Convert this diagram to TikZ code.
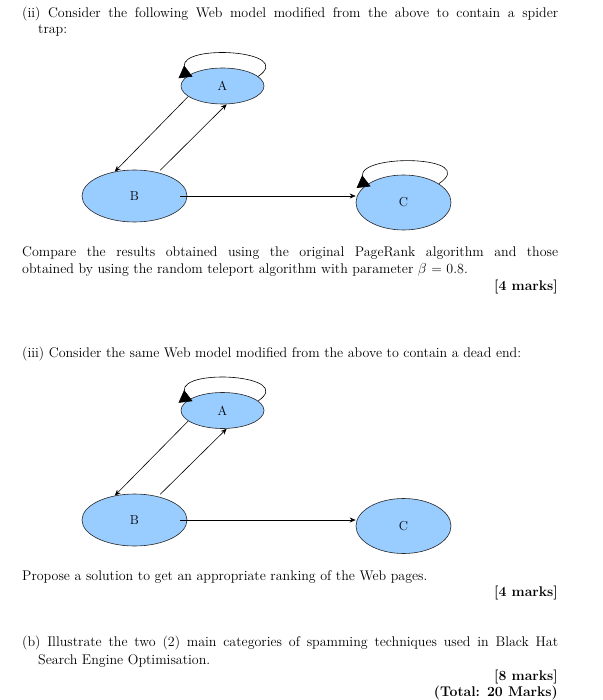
\documentclass[tikz,border=0pt]{standalone}
\usepackage{tikz}
\usetikzlibrary{shapes.geometric,arrows.meta,calc}
\definecolor{pagefill}{HTML}{99CCFF}
\def\qfont{\fontsize{14}{16}\selectfont}
\def\jline#1{\makebox[536pt][s]{#1}}
\tikzset{
	page/.style={ellipse, draw=black!85, fill=pagefill, line width=0.6pt, inner sep=0pt, font=\fontsize{13}{15}\selectfont},
	link/.style={line width=0.6pt, -{Stealth[length=6pt,width=5pt]}},
	selfloop/.style={line width=0.6pt, -{Triangle[reversed,length=12pt,width=14pt]}},
	qline/.style={anchor=base west, inner sep=0pt, font=\qfont},
	marks/.style={anchor=base east, inner sep=0pt, font=\qfont\bfseries}
}

\begin{document}
\begin{tikzpicture}[x=1pt, y=-1pt]
			%%%%% START %%%%%
			\useasboundingbox (0,0) rectangle (602,700);
			
			\node[qline] (q2a) at (22,18) {\jline{(ii) Consider the following Web model modified from the above to contain a spider}};
			\node[qline] (q2b) at (38,34) {trap:};
			
			% spider trap
			\node[page, minimum width=83pt, minimum height=36pt] (A1) at (222.5,86) {A};
			\node[page, minimum width=105pt, minimum height=52pt] (B1) at (134.5,196) {B};
			\node[page, minimum width=95pt, minimum height=55pt] (C1) at (403.5,202.5) {C};
			
			\draw[link] (A1.197) -- (B1.129);
			\draw[link, shorten <=3pt] (B1.45) -- (A1.283);
			\draw[link] ([xshift=-7pt]B1.east) -- (B1.east -| C1.west);
			\draw[selfloop] (A1.15) .. controls +(38,-26) and +(-4,-34) .. (A1.167);
			\draw[selfloop] (C1.28) .. controls +(42,-28) and +(-4,-34) .. (C1.159);
			
			\node[qline] (q2c) at (22,257) {\jline{Compare the results obtained using the original PageRank algorithm and those}};
			\node[qline] (q2d) at (22,273) {obtained by using the random teleport algorithm with parameter $\beta$ = 0.8.};
			\node[marks] (m2) at (558,290) {[4 marks]};
			
			\node[qline] (q3a) at (22,357) {(iii) Consider the same Web model modified from the above to contain a dead end:};
			
			% dead end
			\node[page, minimum width=83pt, minimum height=36pt] (A2) at (222.5,410.5) {A};
			\node[page, minimum width=105pt, minimum height=52pt] (B2) at (134.5,520) {B};
			\node[page, minimum width=95pt, minimum height=55pt] (C2) at (403.5,526) {C};
			
			\draw[link] (A2.197) -- (B2.129);
			\draw[link, shorten <=3pt] (B2.45) -- (A2.283);
			\draw[link] ([xshift=-7pt]B2.east) -- (B2.east -| C2.west);
			\draw[selfloop] (A2.15) .. controls +(38,-26) and +(-4,-34) .. (A2.167);
			
			\node[qline] (q3b) at (22,580) {Propose a solution to get an appropriate ranking of the Web pages.};
			\node[marks] (m3) at (558,596) {[4 marks]};
			
			\node[qline] (qba) at (22,646) {\jline{(b) Illustrate the two (2) main categories of spamming techniques used in Black Hat}};
			\node[qline] (qbb) at (38,664) {Search Engine Optimisation.};
			\node[marks] (mb) at (558,680) {[8 marks]};
			\node[marks] (mt) at (558,696) {(Total: 20 Marks)};
			
			%%%%% END %%%%%
\end{tikzpicture}
\end{document}
